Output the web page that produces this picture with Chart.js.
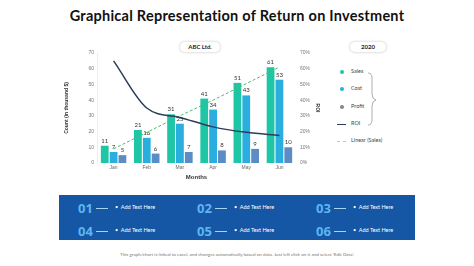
<!DOCTYPE html>
<html>
<head>
<meta charset="utf-8">
<script src="https://cdn.jsdelivr.net/npm/chart.js@4"></script>
<style>
  body { margin: 0; width: 474px; height: 266px; background: #fff; font-family: Lato, "Open Sans", sans-serif; position: relative; overflow: hidden; }
  .title { position: absolute; top: 7px; left: 0; width: 474px; text-align: center; font-weight: 700; font-size: 14.5px; letter-spacing: 0.25px; color: #111; }
  .pill { position: absolute; height: 10px; line-height: 10px; border-radius: 6px; background: #fff; box-shadow: 0 0 3px rgba(0,0,0,0.25); font-size: 6px; font-weight: 700; text-align: center; color: #222; }
  #wrap { position: absolute; left: 64px; top: 40px; width: 256px; height: 150px; }
  .leg { position: absolute; font-size: 5.5px; color: #444; }
  .dot { position: absolute; width: 4px; height: 4px; border-radius: 2px; }
  .panel { position: absolute; left: 59px; top: 195px; width: 356px; height: 45px; background: #1557a4; }
  .item { position: absolute; color: #fff; font-size: 5.5px; }
  .num { position: absolute; font-size: 13px; font-weight: 700; color: #5cb6f2; font-family: "Open Sans", sans-serif; }
  .dash { position: absolute; height: 1px; width: 12px; background: #a6d4f5; }
  .foot { position: absolute; top: 251px; left: 0; width: 474px; text-align: center; font-size: 4.6px; color: #777; }
</style>
</head>
<body>
<div class="title">Graphical Representation of Return on Investment</div>
<div class="pill" style="left:180px;top:42px;width:40px;">ABC Ltd.</div>
<div class="pill" style="left:350px;top:42px;width:36px;">2020</div>
<div id="wrap"><canvas id="roiChart"></canvas></div>
<div id="legend"></div>
<svg style="position:absolute;left:362px;top:70px" width="20" height="58">
  <path d="M6 3 Q10 3 10 8 L10 24 Q10 29 14 30 Q10 31 10 36 L10 50 Q10 55 6 55" fill="none" stroke="#999" stroke-width="0.8"/>
</svg>
<div class="panel" id="panel"></div>
<div class="foot">This graph/chart is linked to excel, and changes automatically based on data. Just left click on it and select 'Edit Data'.</div>
<script>
// data
const months = ['Jan', 'Feb', 'Mar', 'Apr', 'May', 'Jun'];
const sales = [11, 21, 31, 41, 51, 61];
const cost = [7, 16, 25, 34, 43, 53];
const profit = [5, 6, 7, 8, 9, 10];
const roi = [65, 35, 29, 23, 19.5, 17.5];
const salesTrend = [9, 19.5, 30, 40, 50.5, 61];
const countTicks = [0, 10, 20, 30, 40, 50, 60, 70];

const colSales = '#1ec6a6';
const colCost = '#2aaedf';
const colProfit = '#5b8cc6';
const colRoi = '#2d3b5c';
const colTrend = '#4cbc6e';

// legend rechts
const legendItems = [
  { label: 'Sales', type: 'dot', color: colSales, y: 72 },
  { label: 'Cost', type: 'dot', color: colCost, y: 89 },
  { label: 'Profit', type: 'dot', color: '#7a8797', y: 107 },
  { label: 'ROI', type: 'line', color: colRoi, y: 124 },
  { label: 'Linear (Sales)', type: 'dash', color: '#b9c9bf', y: 141 }
];
const legend = document.getElementById('legend');
legendItems.forEach(it => {
  const m = document.createElement('div');
  if (it.type === 'dot') {
    m.className = 'dot';
    m.style.cssText = `left:340px;top:${it.y - 2}px;background:${it.color}`;
  } else {
    m.style.cssText = `position:absolute;left:337px;top:${it.y}px;width:9px;height:0;border-top:1px ${it.type === 'dash' ? 'dashed' : 'solid'} ${it.color}`;
  }
  legend.appendChild(m);
  const t = document.createElement('div');
  t.className = 'leg';
  t.style.cssText = `left:351px;top:${it.y - 4}px`;
  t.textContent = it.label;
  legend.appendChild(t);
});

// blue panel with six items
const panel = document.getElementById('panel');
const nums = ['01', '02', '03', '04', '05', '06'];
nums.forEach((n, i) => {
  const col = i % 3, row = Math.floor(i / 3);
  const x = 19 + col * 119, y = 4 + row * 23;
  panel.insertAdjacentHTML('beforeend',
    `<div class="num" style="left:${x}px;top:${y}px">${n}</div>` +
    `<div class="dash" style="left:${x + 18}px;top:${y + 9}px"></div>` +
    `<div class="item" style="left:${x + 37}px;top:${y + 5}px">•&nbsp; Add Text Here</div>`);
});

// labels above bars
const barLabels = {
  id: 'barLabels',
  afterDatasetsDraw(chart) {
    const ctx = chart.ctx;
    ctx.save();
    ctx.font = '6px Lato, sans-serif';
    ctx.fillStyle = '#333';
    ctx.textAlign = 'center';
    ctx.textBaseline = 'bottom';
    chart.data.datasets.forEach((ds, i) => {
      if (ds.type !== 'bar') return;
      chart.getDatasetMeta(i).data.forEach((el, j) => {
        ctx.fillText(ds.data[j], el.x, el.y - 2);
      });
    });
    ctx.restore();
  }
};

new Chart(document.getElementById('roiChart'), {
  data: {
    labels: months,
    datasets: [
      { type: 'line', label: 'ROI', data: roi, yAxisID: 'y1', borderColor: colRoi, borderWidth: 1.5, pointRadius: 0, cubicInterpolationMode: 'monotone', fill: false },
      { type: 'line', label: 'Linear (Sales)', data: salesTrend, yAxisID: 'y', borderColor: colTrend, borderWidth: 1, borderDash: [3, 2], pointRadius: 0, fill: false },
      { type: 'bar', label: 'Sales', data: sales, backgroundColor: colSales, categoryPercentage: 0.8, barPercentage: 0.88 },
      { type: 'bar', label: 'Cost', data: cost, backgroundColor: colCost, categoryPercentage: 0.8, barPercentage: 0.88 },
      { type: 'bar', label: 'Profit', data: profit, backgroundColor: colProfit, categoryPercentage: 0.8, barPercentage: 0.88 }
    ]
  },
  options: {
    responsive: true,
    maintainAspectRatio: false,
    animation: false,
    layout: { padding: { top: 13, right: 0, left: 0, bottom: 5 } },
    plugins: { legend: { display: false }, tooltip: { enabled: false } },
    scales: {
      x: {
        grid: { display: false, drawTicks: false },
        border: { display: false },
        ticks: { color: '#666', font: { size: 5 }, padding: 2 },
        title: { display: true, text: 'Months', color: '#333', font: { size: 6, weight: 'bold' }, padding: { top: 3 } },
        afterFit: s => { s.height = 22; }
      },
      y: {
        position: 'left',
        min: 0, max: 70,
        afterBuildTicks: s => { s.ticks = countTicks.map(v => ({ value: v })); },
        grid: { display: false, drawTicks: false },
        border: { display: true, color: '#eee' },
        ticks: { color: '#777', font: { size: 5 }, padding: 3 },
        title: { display: true, text: 'Count (in thousand $)', color: '#333', font: { size: 5, weight: 'bold' }, padding: 0 },
        afterFit: s => { s.width = 33; }
      },
      y1: {
        position: 'right',
        min: 0, max: 70,
        afterBuildTicks: s => { s.ticks = countTicks.map(v => ({ value: v })); },
        grid: { display: false, drawTicks: false },
        border: { display: false },
        ticks: { color: '#777', font: { size: 5 }, padding: 4, callback: v => v + '%' },
        title: { display: true, text: 'ROI', color: '#333', font: { size: 5, weight: 'bold' }, padding: 0 },
        afterFit: s => { s.width = 24; }
      }
    }
  },
  plugins: [barLabels]
});
</script>
</body>
</html>
